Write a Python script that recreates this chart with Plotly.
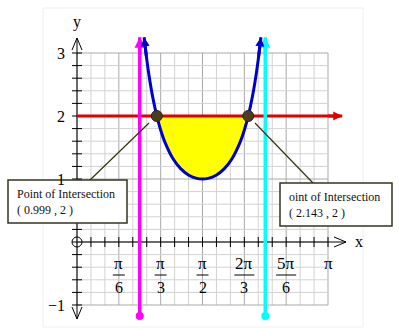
import math
import plotly.graph_objects as go

PI = math.pi

# ---- data ----
curve_x = [0.84, 0.87, 0.90, 0.95, 1.00, 1.05, 1.10, 1.20, 1.30, 1.40, 1.50, 1.571,
           1.642, 1.742, 1.842, 1.942, 2.042, 2.092, 2.142, 2.192, 2.242, 2.272, 2.302]
curve_y = [3.25, 2.93, 2.656, 2.285, 1.994, 1.766, 1.585, 1.325, 1.160, 1.060, 1.010, 1.0,
           1.010, 1.060, 1.160, 1.325, 1.585, 1.766, 1.994, 2.285, 2.656, 2.93, 3.25]
hline_y = 2
hline_x = [0, 3.32]
vlines_x = [PI / 4, 3 * PI / 4]
vlines_y = [-1.175, 3.25]
vline_colors = ["#ff00ff", "#00ffff"]
inter_x = [0.999, 2.143]
inter_y = [2, 2]
inter_labels = ["Point of Intersection<br>( 0.999 , 2 )", "oint of Intersection<br>( 2.143 , 2 )"]
xtick_vals = [PI / 6, PI / 3, PI / 2, 2 * PI / 3, 5 * PI / 6, PI]
xtick_num = ["π", "π", "π", "2π", "5π", "π"]
xtick_den = ["6", "3", "2", "3", "6", ""]
ytick_vals = [3, 2, 1, -1]
ytick_text = ["3", "2", "1", "\u22121"]

# ---- pixel geometry helpers ----
W, H = 399, 336
X0, SX = 77.0, 251.0 / PI
Y0, SY = 242.0, 63.0
def X(px): return (px - X0) / SX
def Y(py): return (Y0 - py) / SY

FONT = "Liberation Serif"
fig = go.Figure()
shapes = []
annotations = []

# faint panel
shapes.append(dict(type="rect", x0=X(43), x1=X(363), y0=Y(8), y1=Y(327),
                   line=dict(color="#f0f0f0", width=1), layer="below"))

# grid
gx0, gx1, gy0, gy1 = 0, PI, -1, 3
for i in range(0, 19):
    xv = i * PI / 18
    major = i % 3 == 0
    shapes.append(dict(type="line", x0=xv, x1=xv, y0=gy0, y1=gy1, layer="below",
                       line=dict(color="#a9a9a9" if major else "#d2d2d2", width=1)))
for j in range(0, 21):
    yv = -1 + j * 0.2
    major = j % 5 == 0
    shapes.append(dict(type="line", x0=gx0, x1=gx1, y0=yv, y1=yv, layer="below",
                       line=dict(color="#a9a9a9" if major else "#d2d2d2", width=1)))

# axes
ax_col = "#000000"
shapes.append(dict(type="line", x0=X(72), x1=X(346), y0=0, y1=0, layer="below",
                   line=dict(color=ax_col, width=1)))
shapes.append(dict(type="line", x0=0, x1=0, y0=Y(319), y1=Y(38), layer="below",
                   line=dict(color=ax_col, width=1)))
# chevrons
shapes.append(dict(type="path", layer="below", line=dict(color=ax_col, width=1),
                   path=f"M {X(334)} {Y(237)} L {X(346)} {Y(242)} L {X(334)} {Y(247)}"))
shapes.append(dict(type="path", layer="below", line=dict(color=ax_col, width=1),
                   path=f"M {X(72)} {Y(50)} L {X(77)} {Y(38)} L {X(82)} {Y(50)}"))
shapes.append(dict(type="path", layer="below", line=dict(color=ax_col, width=1),
                   path=f"M {X(72)} {Y(307)} L {X(77)} {Y(319)} L {X(82)} {Y(307)}"))
# ticks
for i in range(1, 19):
    xv = i * PI / 18
    shapes.append(dict(type="line", x0=xv, x1=xv, y0=Y(237), y1=Y(247), layer="below",
                       line=dict(color=ax_col, width=1)))
for j in range(0, 21):
    yv = -1 + j * 0.2
    if abs(yv) < 1e-9:
        continue
    shapes.append(dict(type="line", x0=X(72), x1=X(82), y0=yv, y1=yv, layer="below",
                       line=dict(color=ax_col, width=1)))
# origin circle
shapes.append(dict(type="circle", x0=X(72), x1=X(82), y0=Y(237), y1=Y(247), layer="below",
                   line=dict(color=ax_col, width=1)))

# ---- fill between curve and y=2 ----
fill_x = [inter_x[0]] + [x for x in curve_x if inter_x[0] < x < inter_x[1]] + [inter_x[1]]
fill_y = [inter_y[0]] + [y for x, y in zip(curve_x, curve_y) if inter_x[0] < x < inter_x[1]] + [inter_y[1]]
fig.add_trace(go.Scatter(x=inter_x, y=inter_y, mode="lines", line=dict(width=0, color="rgba(0,0,0,0)"),
                         hoverinfo="skip", showlegend=False))
fig.add_trace(go.Scatter(x=fill_x, y=fill_y, mode="lines", fill="tonexty", fillcolor="#ffff00",
                         line=dict(width=0, shape="spline", color="rgba(0,0,0,0)"),
                         hoverinfo="skip", showlegend=False))

AS = 0.6
# red horizontal line
fig.add_trace(go.Scatter(x=hline_x, y=[hline_y, hline_y], mode="lines",
                         line=dict(color="#e00000", width=3), showlegend=False))
annotations.append(dict(x=hline_x[1], y=hline_y, ax=hline_x[1] - 0.2, ay=hline_y,
                        axref="x", ayref="y", xref="x", yref="y", text="", showarrow=True,
                        arrowhead=2, arrowsize=AS, arrowwidth=3, arrowcolor="#e00000"))

# vertical lines
for xv, col in zip(vlines_x, vline_colors):
    fig.add_trace(go.Scatter(x=[xv, xv], y=vlines_y, mode="lines",
                             line=dict(color=col, width=3.5), showlegend=False))
    fig.add_trace(go.Scatter(x=[xv], y=[vlines_y[0]], mode="markers",
                             marker=dict(color=col, size=8), showlegend=False))
    annotations.append(dict(x=xv, y=vlines_y[1], ax=xv, ay=vlines_y[1] - 0.3,
                            axref="x", ayref="y", xref="x", yref="y", text="", showarrow=True,
                            arrowhead=2, arrowsize=AS, arrowwidth=3.5, arrowcolor=col))

# blue curve
fig.add_trace(go.Scatter(x=curve_x, y=curve_y, mode="lines",
                         line=dict(color="#0000cc", width=3, shape="spline"), showlegend=False))
annotations.append(dict(x=curve_x[0], y=curve_y[0], ax=curve_x[1], ay=curve_y[1],
                        axref="x", ayref="y", xref="x", yref="y", text="", showarrow=True,
                        arrowhead=2, arrowsize=AS, arrowwidth=3, arrowcolor="#0000cc"))
annotations.append(dict(x=curve_x[-1], y=curve_y[-1], ax=curve_x[-2], ay=curve_y[-2],
                        axref="x", ayref="y", xref="x", yref="y", text="", showarrow=True,
                        arrowhead=2, arrowsize=AS, arrowwidth=3, arrowcolor="#0000cc"))

# intersection points
fig.add_trace(go.Scatter(x=inter_x, y=inter_y, mode="markers",
                         marker=dict(color="#4d3d1f", size=11, line=dict(color="#2a2410", width=1)),
                         showlegend=False))

# leader lines and labels
boxes = [(8, 180, 127, 223), (280, 183, 392, 226)]
leaders = [((149, 123), (90, 180)), ((255, 123), (313, 183))]
for (bx0, by0, bx1, by1), ((lx0, ly0), (lx1, ly1)), txt in zip(boxes, leaders, inter_labels):
    shapes.append(dict(type="line", x0=X(lx0), y0=Y(ly0), x1=X(lx1), y1=Y(ly1), layer="above",
                       line=dict(color="#333311", width=1.2)))
    shapes.append(dict(type="rect", x0=X(bx0), y0=Y(by0), x1=X(bx1), y1=Y(by1), layer="above",
                       fillcolor="#ffffff", line=dict(color="#333322", width=1.5)))
    annotations.append(dict(x=X(bx0 + 7), y=Y((by0 + by1) / 2), xref="x", yref="y",
                            xanchor="left", yanchor="middle", align="left", showarrow=False,
                            text=txt, font=dict(family=FONT, size=12, color="#111111")))

# x tick labels (fractions)
for xv, num, den in zip(xtick_vals, xtick_num, xtick_den):
    annotations.append(dict(x=xv, y=Y(263), xref="x", yref="y", text=num, showarrow=False,
                            xanchor="center", yanchor="middle",
                            font=dict(family=FONT, size=17, color="#000")))
    if den:
        half = 6 if len(num) == 1 else 10
        shapes.append(dict(type="line", x0=xv - half / SX, x1=xv + half / SX, y0=Y(275), y1=Y(275),
                           line=dict(color="#000", width=1)))
        annotations.append(dict(x=xv, y=Y(287), xref="x", yref="y", text=den, showarrow=False,
                                xanchor="center", yanchor="middle",
                                font=dict(family=FONT, size=16, color="#000")))

# y tick labels
for yv, t in zip(ytick_vals, ytick_text):
    annotations.append(dict(x=X(67), y=yv, xref="x", yref="y", text=t, showarrow=False,
                            xanchor="right", yanchor="middle",
                            font=dict(family=FONT, size=16, color="#000")))

# axis names
annotations.append(dict(x=X(77), y=Y(22), xref="x", yref="y", text="y", showarrow=False,
                        font=dict(family=FONT, size=16, color="#000")))
annotations.append(dict(x=X(353), y=Y(241), xref="x", yref="y", text="x", showarrow=False,
                        xanchor="left", font=dict(family=FONT, size=16, color="#000")))

fig.update_layout(
    width=W, height=H, margin=dict(l=0, r=0, t=0, b=0),
    paper_bgcolor="white", plot_bgcolor="white",
    xaxis=dict(range=[X(0), X(W)], visible=False, fixedrange=True),
    yaxis=dict(range=[Y(H), Y(0)], visible=False, fixedrange=True),
    shapes=shapes, annotations=annotations, showlegend=False,
)
fig.write_html("out.html")
